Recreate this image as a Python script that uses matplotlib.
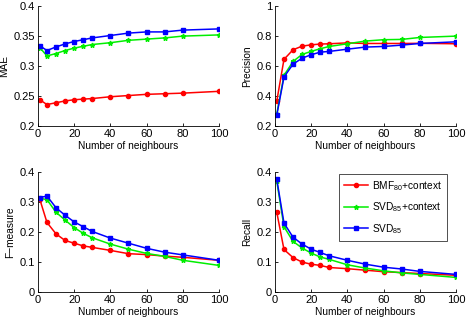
import numpy as np
import matplotlib
matplotlib.use("Agg")
import matplotlib.pyplot as plt

plt.rcParams['font.family'] = ['Liberation Sans', 'DejaVu Sans']
plt.rcParams['mathtext.fontset'] = 'custom'
plt.rcParams['mathtext.rm'] = 'Liberation Sans'

# neighbours on the x axis
k = [1, 5, 10, 15, 20, 25, 30, 40, 50, 60, 70, 80, 100]

# MAE
mae_bmf = [0.244, 0.236, 0.239, 0.242, 0.244, 0.245, 0.246, 0.249, 0.251, 0.253, 0.254, 0.255, 0.258]
mae_svdc = [0.331, 0.317, 0.321, 0.326, 0.330, 0.333, 0.336, 0.339, 0.343, 0.345, 0.347, 0.350, 0.352]
mae_svd = [0.334, 0.326, 0.332, 0.337, 0.341, 0.344, 0.347, 0.351, 0.355, 0.357, 0.357, 0.360, 0.362]

# Precision
prec_bmf = [0.365, 0.645, 0.709, 0.733, 0.742, 0.747, 0.749, 0.755, 0.751, 0.751, 0.751, 0.752, 0.749]
prec_svdc = [0.28, 0.538, 0.631, 0.678, 0.698, 0.716, 0.731, 0.749, 0.767, 0.776, 0.778, 0.791, 0.800]
prec_svd = [0.272, 0.527, 0.613, 0.653, 0.676, 0.693, 0.698, 0.713, 0.727, 0.731, 0.740, 0.751, 0.762]

# F-measure
f_bmf = [0.310, 0.232, 0.194, 0.172, 0.163, 0.154, 0.149, 0.139, 0.128, 0.125, 0.120, 0.116, 0.106]
f_svdc = [0.313, 0.308, 0.266, 0.240, 0.215, 0.196, 0.181, 0.160, 0.143, 0.129, 0.119, 0.106, 0.089]
f_svd = [0.315, 0.320, 0.281, 0.256, 0.234, 0.218, 0.202, 0.180, 0.163, 0.146, 0.133, 0.124, 0.106]

# Recall
rec_bmf = [0.267, 0.142, 0.115, 0.100, 0.093, 0.089, 0.082, 0.078, 0.073, 0.068, 0.065, 0.062, 0.056]
rec_svdc = [0.37, 0.218, 0.169, 0.147, 0.130, 0.117, 0.109, 0.091, 0.080, 0.071, 0.064, 0.059, 0.049]
rec_svd = [0.377, 0.230, 0.183, 0.160, 0.143, 0.132, 0.121, 0.106, 0.093, 0.083, 0.077, 0.069, 0.059]

labels = [r'BMF$_{80}$+context', r'SVD$_{85}$+context', r'SVD$_{85}$']

fig = plt.figure(figsize=(4.74, 3.21), dpi=100)
boxes = [(0.080, 0.607), (0.580, 0.607), (0.080, 0.090), (0.580, 0.090)]
w, h = 0.382, 0.374

panels = [
    ('MAE', (mae_bmf, mae_svdc, mae_svd), (0.2, 0.4), [0.2, 0.25, 0.3, 0.35, 0.4]),
    ('Precision', (prec_bmf, prec_svdc, prec_svd), (0.2, 1.0), [0.2, 0.4, 0.6, 0.8, 1.0]),
    ('F\u2212measure', (f_bmf, f_svdc, f_svd), (0, 0.4), [0, 0.1, 0.2, 0.3, 0.4]),
    ('Recall', (rec_bmf, rec_svdc, rec_svd), (0, 0.4), [0, 0.1, 0.2, 0.3, 0.4]),
]

for (x0, y0), (ylab, (s1, s2, s3), ylim, yt) in zip(boxes, panels):
    ax = fig.add_axes([x0, y0, w, h])
    ax.plot(k, s1, '-o', color='#ff0000', lw=1.1, ms=3, label=labels[0])
    ax.plot(k, s2, '-*', color='#00ee00', lw=1.1, ms=3.5, label=labels[1])
    ax.plot(k, s3, '-s', color='#0000ff', lw=1.1, ms=3.5, label=labels[2])
    ax.set_xlim(0, 100)
    ax.set_ylim(*ylim)
    ax.set_xticks([0, 20, 40, 60, 80, 100])
    ax.set_yticks(yt)
    ax.set_yticklabels([f'{v:g}' for v in yt])
    ax.set_xlabel('Number of neighbours', fontsize=7.3, labelpad=1.5)
    ax.set_ylabel(ylab, fontsize=7.3, labelpad=3)
    ax.tick_params(direction='in', labelsize=8, length=2.5, width=0.6, pad=2)
    for sp in ['top', 'right']:
        ax.spines[sp].set_visible(False)
    for sp in ['left', 'bottom']:
        ax.spines[sp].set_linewidth(0.6)
    if ylab == 'Recall':
        leg = ax.legend(loc='upper right', bbox_to_anchor=(0.95, 0.985), fontsize=7.3,
                        frameon=True, fancybox=False, edgecolor='black',
                        borderaxespad=0.0, handlelength=2.3, handletextpad=0.4,
                        labelspacing=0.75, borderpad=0.5)
        leg.get_frame().set_linewidth(0.6)

fig.savefig('out.png', dpi=100)
